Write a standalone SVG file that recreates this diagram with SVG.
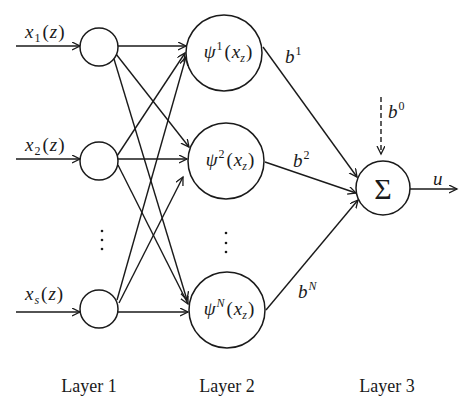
<svg xmlns="http://www.w3.org/2000/svg" width="474" height="413" viewBox="0 0 474 413">
<style>
.n{fill:#fff;stroke:#1a1a1a;stroke-width:1.5}
.c line{stroke:#1a1a1a;stroke-width:1.4;marker-end:url(#ah)}
text{font-family:"Liberation Serif","Times New Roman",serif;fill:#1a1a1a;font-size:18px}
.m{font-size:19px}
.i{font-style:italic}
.s{font-size:12px}
.sig{font-size:30px}
.d{fill:#1a1a1a}
</style>
<defs>
<marker id="ah" markerWidth="12" markerHeight="12" refX="8" refY="4" orient="auto" markerUnits="userSpaceOnUse">
<path d="M0,0 L8,4 L0,8" fill="none" stroke="#1a1a1a" stroke-width="1.3"/>
</marker>
</defs>
<rect width="474" height="413" fill="#fff"/>
<g class="c" id="connectors">
<line x1="16" y1="46" x2="80" y2="46"/>
<line x1="16" y1="159" x2="80" y2="159"/>
<line x1="16" y1="312" x2="80" y2="312"/>
<line x1="118" y1="46" x2="186" y2="46"/>
<line x1="116" y1="54" x2="189" y2="147"/>
<line x1="114" y1="59" x2="187" y2="300"/>
<line x1="117" y1="156" x2="185" y2="53"/>
<line x1="118" y1="159" x2="187" y2="159"/>
<line x1="118" y1="165" x2="188" y2="304"/>
<line x1="117" y1="300" x2="186" y2="57"/>
<line x1="119" y1="303" x2="183" y2="177"/>
<line x1="118" y1="312" x2="188" y2="312"/>
<line x1="263" y1="47" x2="357" y2="177"/>
<line x1="265" y1="162" x2="356" y2="193"/>
<line x1="266" y1="310" x2="358" y2="200"/>
<line x1="381" y1="97" x2="381" y2="154" stroke-dasharray="5,3"/>
<line x1="410" y1="189" x2="457" y2="189"/>
</g>
<g id="in1"><circle class="n" cx="99" cy="47" r="19"/><text class="m" x="25" y="38"><tspan class="i">x</tspan><tspan class="s" dx="1" dy="4">1</tspan><tspan dx="2" dy="-4">(</tspan><tspan class="i" dx="1">z</tspan><tspan dx="1">)</tspan></text></g>
<g id="in2"><circle class="n" cx="99" cy="161" r="19"/><text class="m" x="25" y="151"><tspan class="i">x</tspan><tspan class="s" dx="1" dy="4">2</tspan><tspan dx="2" dy="-4">(</tspan><tspan class="i" dx="1">z</tspan><tspan dx="1">)</tspan></text></g>
<g id="ins"><circle class="n" cx="99" cy="309" r="19"/><text class="m" x="25" y="300"><tspan class="i">x</tspan><tspan class="s i" dx="1" dy="4">s</tspan><tspan dx="2" dy="-4">(</tspan><tspan class="i" dx="1">z</tspan><tspan dx="1">)</tspan></text></g>
<g id="dots1"><circle class="d" cx="102" cy="231" r="1.3"/><circle class="d" cx="102" cy="240" r="1.3"/><circle class="d" cx="102" cy="249" r="1.3"/></g>
<g id="h1"><circle class="n" cx="224" cy="53" r="38"/><text class="m" x="228" y="58" text-anchor="middle"><tspan class="i">ψ</tspan><tspan class="s" dx="1" dy="-8">1</tspan><tspan dx="2" dy="8">(</tspan><tspan class="i" dx="1">x</tspan><tspan class="s i" dy="4">z</tspan><tspan dx="1" dy="-4">)</tspan></text></g>
<g id="h2"><circle class="n" cx="226" cy="161" r="38"/><text class="m" x="230" y="166" text-anchor="middle"><tspan class="i">ψ</tspan><tspan class="s" dx="1" dy="-8">2</tspan><tspan dx="2" dy="8">(</tspan><tspan class="i" dx="1">x</tspan><tspan class="s i" dy="4">z</tspan><tspan dx="1" dy="-4">)</tspan></text></g>
<g id="hN"><circle class="n" cx="227" cy="310" r="38"/><text class="m" x="229" y="315" text-anchor="middle"><tspan class="i">ψ</tspan><tspan class="s i" dx="1" dy="-8">N</tspan><tspan dx="2" dy="8">(</tspan><tspan class="i" dx="1">x</tspan><tspan class="s i" dy="4">z</tspan><tspan dx="1" dy="-4">)</tspan></text></g>
<g id="dots2"><circle class="d" cx="226" cy="233" r="1.3"/><circle class="d" cx="226" cy="243" r="1.3"/><circle class="d" cx="226" cy="252" r="1.3"/></g>
<g id="sum"><circle class="n" cx="383" cy="188" r="27"/><text x="383" y="199" text-anchor="middle" class="sig">Σ</text></g>
<g id="labels">
<text class="m" x="285" y="63"><tspan class="i">b</tspan><tspan class="s" dx="1" dy="-8">1</tspan></text>
<text class="m" x="293" y="167"><tspan class="i">b</tspan><tspan class="s" dx="1" dy="-8">2</tspan></text>
<text class="m" x="298" y="298"><tspan class="i">b</tspan><tspan class="s i" dx="1" dy="-8">N</tspan></text>
<text class="m" x="388" y="118"><tspan class="i">b</tspan><tspan class="s" dx="1" dy="-8">0</tspan></text>
<text class="m i" x="433" y="185">u</text>
<text x="89" y="392" text-anchor="middle">Layer 1</text>
<text x="227" y="392" text-anchor="middle">Layer 2</text>
<text x="387" y="392" text-anchor="middle">Layer 3</text>
</g>
</svg>
